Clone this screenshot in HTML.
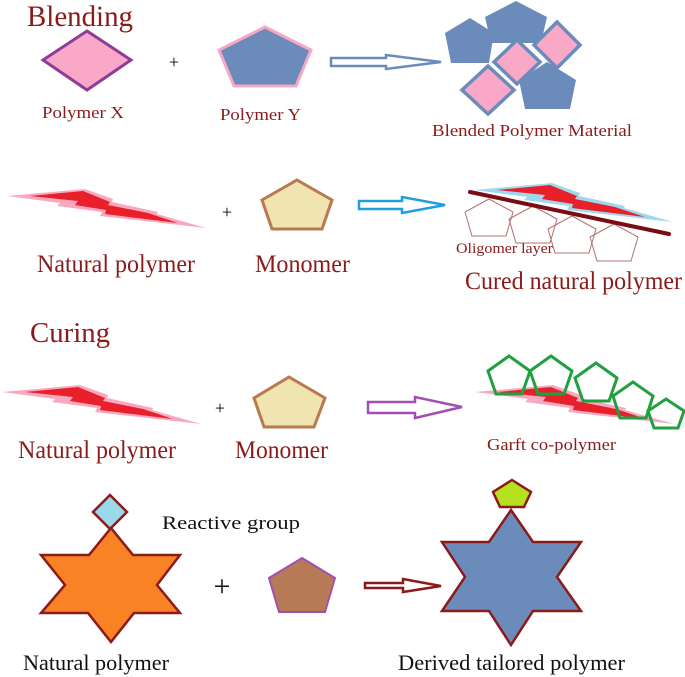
<!DOCTYPE html>
<html><head><meta charset="utf-8"><style>
html,body{margin:0;padding:0;background:#fff}
svg{display:block}
text{font-family:"Liberation Serif",serif}
.r{fill:#8b1a1a}
</style></head><body>
<svg width="685" height="677" viewBox="0 0 685 677" xmlns="http://www.w3.org/2000/svg">
<defs>
<g id="boltp">
<polygon points="7,196 85,189 113,199 112,202 158,212 157,214 206,228 100,216 102,212 57,206 60,203" fill="#f9a8c0"/>
<polygon points="30,196 83,191 110,202 108,205 148,213 178,223 105,214 106,210 75,205 78,201" fill="#e8202a"/>
</g>
<g id="boltb">
<polygon points="7,196 85,189 113,199 112,202 158,212 157,214 206,228 100,216 102,212 57,206 60,203" fill="#9fd8ee"/>
<polygon points="30,196 83,191 110,202 108,205 148,213 178,223 105,214 106,210 75,205 78,201" fill="#e8202a"/>
</g>
</defs>
<!-- Blending -->
<text x="27" y="26" font-size="30" class="r" textLength="106" lengthAdjust="spacingAndGlyphs">Blending</text>
<polygon points="87,31 131,60 87,90 43,60" fill="#f9a8c8" stroke="#8e3c9a" stroke-width="3"/>
<text x="174" y="68" font-size="18" text-anchor="middle">+</text>
<polygon points="265,27 311,50 296,86 234,86 219,50" fill="#6b8cba" stroke="#f7a8c4" stroke-width="3"/>
<polygon points="331,58 386,58 386,55 441,62 386,69 386,66 331,66" fill="#fff" stroke="#6b8cba" stroke-width="2.5"/>
<!-- cluster -->
<polygon points="470,18 494,33 489,63 451,63 445,33" fill="#6b8cba"/>
<polygon points="516,1 547,17 541,43 491,43 485,17" fill="#6b8cba"/>
<polygon points="547,62 576,80 570,109 525,109 519,80" fill="#6b8cba"/>
<polygon points="557,22 580,45 557,68 534,45" fill="#f9a8c8" stroke="#6b8cba" stroke-width="3.5"/>
<polygon points="517,40 540,62 517,84 494,62" fill="#f9a8c8" stroke="#6b8cba" stroke-width="3.5"/>
<polygon points="488,66 514,90 488,114 462,90" fill="#f9a8c8" stroke="#6b8cba" stroke-width="3.5"/>
<text x="42" y="118" font-size="17" class="r" textLength="82" lengthAdjust="spacingAndGlyphs">Polymer X</text>
<text x="220" y="120" font-size="17" class="r" textLength="81" lengthAdjust="spacingAndGlyphs">Polymer Y</text>
<text x="432" y="136" font-size="17" class="r" textLength="200" lengthAdjust="spacingAndGlyphs">Blended Polymer Material</text>
<!-- row 2 -->
<use href="#boltp"/>
<text x="227" y="218" font-size="18" text-anchor="middle">+</text>
<polygon points="297,180 332,200 322,229 272,229 262,200" fill="#f0e4b0" stroke="#b87a4e" stroke-width="3"/>
<polygon points="359,201 402,201 402,197 445,205 402,213 402,209 359,209" fill="#fff" stroke="#1ea0e0" stroke-width="2.5"/>
<use href="#boltb" transform="translate(467,-6)"/>
<g fill="none" stroke="#b07070" stroke-width="1">
<polygon points="489,199 513,212 506,236 472,236 465,212"/>
<polygon points="533,206 557,219 550,243 516,243 509,219"/>
<polygon points="572,216 596,229 589,253 555,253 548,229"/>
<polygon points="614,224 638,237 631,261 597,261 590,237"/>
</g>
<line x1="470" y1="192" x2="669" y2="234" stroke="#7a0c14" stroke-width="4" stroke-linecap="round"/>
<text x="456" y="253" font-size="15" class="r" textLength="97" lengthAdjust="spacingAndGlyphs">Oligomer layer</text>
<text x="37" y="272" font-size="25" class="r" textLength="158" lengthAdjust="spacingAndGlyphs">Natural polymer</text>
<text x="255" y="272" font-size="25" class="r" textLength="95" lengthAdjust="spacingAndGlyphs">Monomer</text>
<text x="465" y="289" font-size="25" class="r" textLength="217" lengthAdjust="spacingAndGlyphs">Cured natural polymer</text>
<!-- Curing -->
<text x="30" y="342" font-size="28" class="r" textLength="80" lengthAdjust="spacingAndGlyphs">Curing</text>
<use href="#boltp" transform="translate(-5,196)"/>
<text x="220" y="414" font-size="18" text-anchor="middle">+</text>
<polygon points="289,377 325,398 314,427 264,427 254,398" fill="#f0e4b0" stroke="#b87a4e" stroke-width="3"/>
<polygon points="368,402 415,402 415,397 462,407 415,418 415,413 368,413" fill="#fff" stroke="#a050b0" stroke-width="2.5"/>
<use href="#boltp" transform="translate(468,196)"/>
<g fill="none" stroke="#20a040" stroke-width="3">
<polygon points="509,356 530,371 522,394 496,394 488,371"/>
<polygon points="551,356 572,371 564,394 538,394 530,371"/>
<polygon points="596,363 617,378 609,401 583,401 575,378"/>
<polygon points="633,382 653,396 646,418 620,418 613,396"/>
<polygon points="666,399 684,411 678,428 654,428 648,411"/>
</g>
<text x="487" y="450" font-size="17" class="r" textLength="129" lengthAdjust="spacingAndGlyphs">Garft co-polymer</text>
<text x="18" y="458" font-size="25" class="r" textLength="158" lengthAdjust="spacingAndGlyphs">Natural polymer</text>
<text x="235" y="458" font-size="25" class="r" textLength="93" lengthAdjust="spacingAndGlyphs">Monomer</text>
<!-- bottom -->
<polygon points="110,495 127,512 110,529 93,512" fill="#9ad8ea" stroke="#8b1a1a" stroke-width="2.5"/>
<polygon points="111,528 133,555 180,555 157,585 180,613 134,613 111,642 88,613 41,613 65,585 41,555 89,555" fill="#f98224" stroke="#8b1a1a" stroke-width="2.5"/>
<text x="162" y="529" font-size="19" fill="#111" textLength="138" lengthAdjust="spacingAndGlyphs">Reactive group</text>
<text x="222" y="596" font-size="30" text-anchor="middle" fill="#111">+</text>
<polygon points="302,558 335,578 325,612 279,612 269,578" fill="#b87a56" stroke="#a050b0" stroke-width="2"/>
<polygon points="365,583 403,583 403,579 441,586 403,592 403,588 365,588" fill="#fff" stroke="#8b1a1a" stroke-width="2.5"/>
<polygon points="512,480 531,492 524,507 500,507 493,492" fill="#b5e21c" stroke="#8b1a1a" stroke-width="2.5"/>
<polygon points="511,510 533,542 581,542 557,577 581,611 533,611 511,645 489,611 442,611 465,577 442,542 489,542" fill="#6b8cba" stroke="#8b1a1a" stroke-width="2.5"/>
<text x="23" y="670" font-size="22" fill="#111" textLength="146" lengthAdjust="spacingAndGlyphs">Natural polymer</text>
<text x="398" y="670" font-size="22" fill="#111" textLength="227" lengthAdjust="spacingAndGlyphs">Derived tailored polymer</text>
</svg>
</body></html>
